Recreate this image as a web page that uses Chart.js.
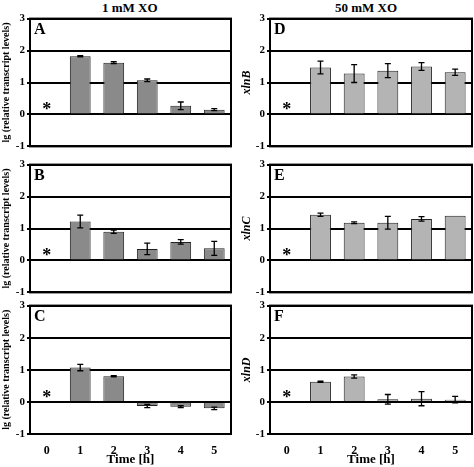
<!DOCTYPE html><html><head><script src="https://cdn.jsdelivr.net/npm/chart.js"></script>
<style>body{margin:0;width:474px;height:467px;position:relative;background:#fff;overflow:hidden;font-family:"Liberation Serif",serif}
canvas{position:absolute}.h{position:absolute;font:bold 13px "Liberation Serif";top:0}</style></head><body>
<div class="h" style="left:102px">1 mM XO</div><div class="h" style="left:335px">50 mM XO</div>
<script>
const categories=["0","1","2","3","4","5"];
const yTicks=[-1,0,1,2,3];
const valsA=[null,1.82,1.62,1.07,0.27,0.15], errA=[0,0.02,0.03,0.04,0.12,0.03];
const valsB=[null,1.22,0.90,0.36,0.58,0.38], errB=[0,0.20,0.05,0.18,0.07,0.22];
const valsC=[null,1.07,0.80,-0.13,-0.15,-0.20], errC=[0,0.10,0.02,0.05,0.03,0.04];
const valsD=[null,1.47,1.28,1.37,1.50,1.32], errD=[0,0.20,0.28,0.22,0.12,0.10];
const valsE=[null,1.43,1.18,1.18,1.30,1.40], errE=[0,0.05,0.03,0.20,0.07,0];
const valsF=[null,0.63,0.79,0.08,0.10,0.07], errF=[0,0.02,0.05,0.15,0.22,0.10];
const panels=[
 {id:"A",v:valsA,e:errA,left:0,top:10,bottom:false,title:"lg (relative transcript levels)",it:false,col:"#8a8a8a"},
 {id:"B",v:valsB,e:errB,left:0,top:156,bottom:false,title:"lg (relative transcript levels)",it:false,col:"#8a8a8a"},
 {id:"C",v:valsC,e:errC,left:0,top:297,bottom:true,title:"lg (relative transcript levels)",it:false,col:"#8a8a8a"},
 {id:"D",v:valsD,e:errD,left:240,top:10,bottom:false,title:"xlnB",it:true,col:"#b4b4b4"},
 {id:"E",v:valsE,e:errE,left:240,top:156,bottom:false,title:"xlnC",it:true,col:"#b4b4b4"},
 {id:"F",v:valsF,e:errF,left:240,top:297,bottom:true,title:"xlnD",it:true,col:"#b4b4b4"}];
panels.forEach(p=>{
 const c=document.createElement('canvas');
 const h=p.bottom?170:145;
 c.style.left=p.left+'px';c.style.top=p.top+'px';c.style.width='234px';c.style.height=h+'px';
 document.body.appendChild(c);
 const extra={id:'extra',afterDatasetsDraw(ch){const x=ch.scales.x,y=ch.scales.y,ctx=ch.ctx,a=ch.chartArea;
  ctx.save();ctx.strokeStyle='#000';ctx.lineWidth=1.3;
  p.v.forEach((v,i)=>{if(v==null)return;const e=p.e[i];if(!e)return;const px=x.getPixelForValue(i);
   const t=y.getPixelForValue(v+e),b=y.getPixelForValue(v-e);
   ctx.beginPath();ctx.moveTo(px,t);ctx.lineTo(px,b);ctx.moveTo(px-3,t);ctx.lineTo(px+3,t);ctx.moveTo(px-3,b);ctx.lineTo(px+3,b);ctx.stroke();});
  ctx.lineWidth=2;ctx.strokeRect(a.left,a.top,a.right-a.left,a.bottom-a.top);
  ctx.fillStyle='#000';ctx.font='bold 16px "Liberation Serif"';ctx.textBaseline='top';ctx.fillText(p.id,a.left+4,a.top+3);
  ctx.font='bold 18px "Liberation Serif"';ctx.textAlign='center';ctx.textBaseline='middle';
  ctx.fillText('*',x.getPixelForValue(0),y.getPixelForValue(0.12));ctx.restore();}};
 new Chart(c,{type:'bar',data:{labels:categories,datasets:[{data:p.v,backgroundColor:p.col,borderColor:'#222',borderWidth:1,barPercentage:0.62,categoryPercentage:1}]},
  options:{responsive:false,animation:false,devicePixelRatio:1,
   layout:{padding:{top:8,right:p.left?2:3,bottom:p.bottom?0:7,left:0}},
   plugins:{legend:{display:false},tooltip:{enabled:false}},
   scales:{x:{display:true,grid:{display:false},border:{display:false},
     ticks:{display:p.bottom,color:'#000',font:{family:'Liberation Serif',weight:'bold',size:12},padding:2},
     title:{display:p.bottom,text:'Time [h]',color:'#000',font:{family:'Liberation Serif',weight:'bold',size:13},padding:0},
     afterFit(s){s.height=p.bottom?33:0;}},
    y:{min:-1,max:3,afterBuildTicks(s){s.ticks=yTicks.map(v=>({value:v}));},
     grid:{color:'#000',lineWidth:2,drawTicks:true,tickLength:3},border:{display:false},
     ticks:{color:'#000',font:{family:'Liberation Serif',weight:'bold',size:11},padding:2},
     title:{display:true,text:p.title,color:'#000',font:{family:'Liberation Serif',weight:'bold',size:p.it?12:10,style:p.it?'italic':'normal'},padding:0},
     afterFit(s){s.width=30;}}}},plugins:[extra]});
});
</script></body></html>
